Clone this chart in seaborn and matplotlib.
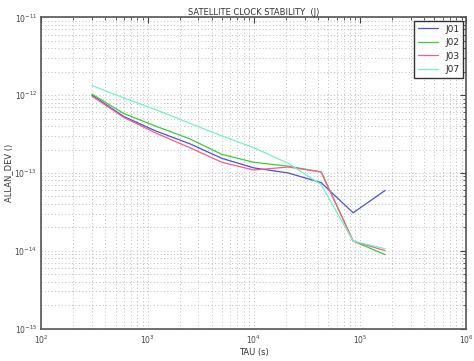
import numpy as np
import pandas as pd
import matplotlib
matplotlib.use("Agg")
import matplotlib.pyplot as plt
import matplotlib.ticker as mticker
import seaborn as sns

# tau values (s)
tau = [300, 600, 1200, 2500, 5000, 10000, 21000, 43000, 86000, 172000]

j01 = [1.0e-12, 5.3e-13, 3.45e-13, 2.37e-13, 1.54e-13, 1.16e-13, 1.0e-13, 7.5e-14, 3.07e-14, 5.96e-14]
j02 = [1.03e-12, 5.79e-13, 3.98e-13, 2.74e-13, 1.73e-13, 1.37e-13, 1.22e-13, 1.03e-13, 1.33e-14, 8.9e-15]
j03 = [9.7e-13, 5.16e-13, 3.25e-13, 2.11e-13, 1.37e-13, 1.09e-13, 1.19e-13, 1.03e-13, 1.33e-14, 1.0e-14]
j07 = [1.33e-12, 9.17e-13, 6.49e-13, 4.34e-13, 2.99e-13, 2.11e-13, 1.33e-13, 7.08e-14, 1.33e-14, 1.06e-14]

sats = ["J01", "J02", "J03", "J07"]
colors = {"J01": "#5050d0", "J02": "#3ccc3c", "J03": "#f0608c", "J07": "#7aeec8"}

df = pd.DataFrame({
    "tau": tau * 4,
    "adev": j01 + j02 + j03 + j07,
    "sat": [s for s in sats for _ in tau],
})

sns.set_style("white")
plt.rcParams["font.family"] = ["DejaVu Sans"]

fig = plt.figure(figsize=(4.74, 3.61), dpi=100)
ax = fig.add_axes([0.087, 0.09, 0.897, 0.862])

sns.lineplot(data=df, x="tau", y="adev", hue="sat", palette=colors,
             linewidth=0.9, ax=ax, sort=False, estimator=None)

ax.set_xscale("log")
ax.set_yscale("log")
ax.set_xlim(1e2, 1e6)
ax.set_ylim(1e-15, 1e-11)

# only ticks inside the axes range
xmaj = [10.0 ** e for e in range(2, 7)]
ymaj = [10.0 ** e for e in range(-15, -10)]
ax.xaxis.set_major_locator(mticker.FixedLocator(xmaj))
ax.yaxis.set_major_locator(mticker.FixedLocator(ymaj))
ax.xaxis.set_minor_locator(mticker.FixedLocator([m * d for d in xmaj[:-1] for m in range(2, 10)]))
ax.yaxis.set_minor_locator(mticker.FixedLocator([m * d for d in ymaj[:-1] for m in range(2, 10)]))
ax.xaxis.set_major_formatter(mticker.LogFormatterSciNotation())
ax.yaxis.set_major_formatter(mticker.LogFormatterSciNotation())
ax.xaxis.set_minor_formatter(mticker.NullFormatter())
ax.yaxis.set_minor_formatter(mticker.NullFormatter())

ax.grid(True, which="both", linestyle=(0, (1, 2.5)), color="#bdbdbd", linewidth=0.7)
ax.tick_params(which="both", direction="in", top=True, right=True, labelsize=5.5,
               colors="#444444")
ax.tick_params(axis="x", pad=4)
ax.tick_params(axis="y", pad=3)
ax.tick_params(which="major", length=4)
ax.tick_params(which="minor", length=2)
for sp in ax.spines.values():
    sp.set_color("#555555")
    sp.set_linewidth(1.2)

ax.set_title("SATELLITE CLOCK STABILITY  (J)", fontsize=6, pad=2, color="#333333")
ax.set_xlabel("TAU (s)", fontsize=6, labelpad=1, color="#333333")
ax.set_ylabel("ALLAN_DEV ()", fontsize=6, labelpad=1, color="#333333")

leg = ax.legend(loc="upper right", fontsize=6.5, frameon=True, fancybox=False,
                handlelength=2.2, borderaxespad=0.4)
leg.get_frame().set_edgecolor("black")
leg.get_frame().set_linewidth(1.0)

fig.savefig("out.png", dpi=100)
